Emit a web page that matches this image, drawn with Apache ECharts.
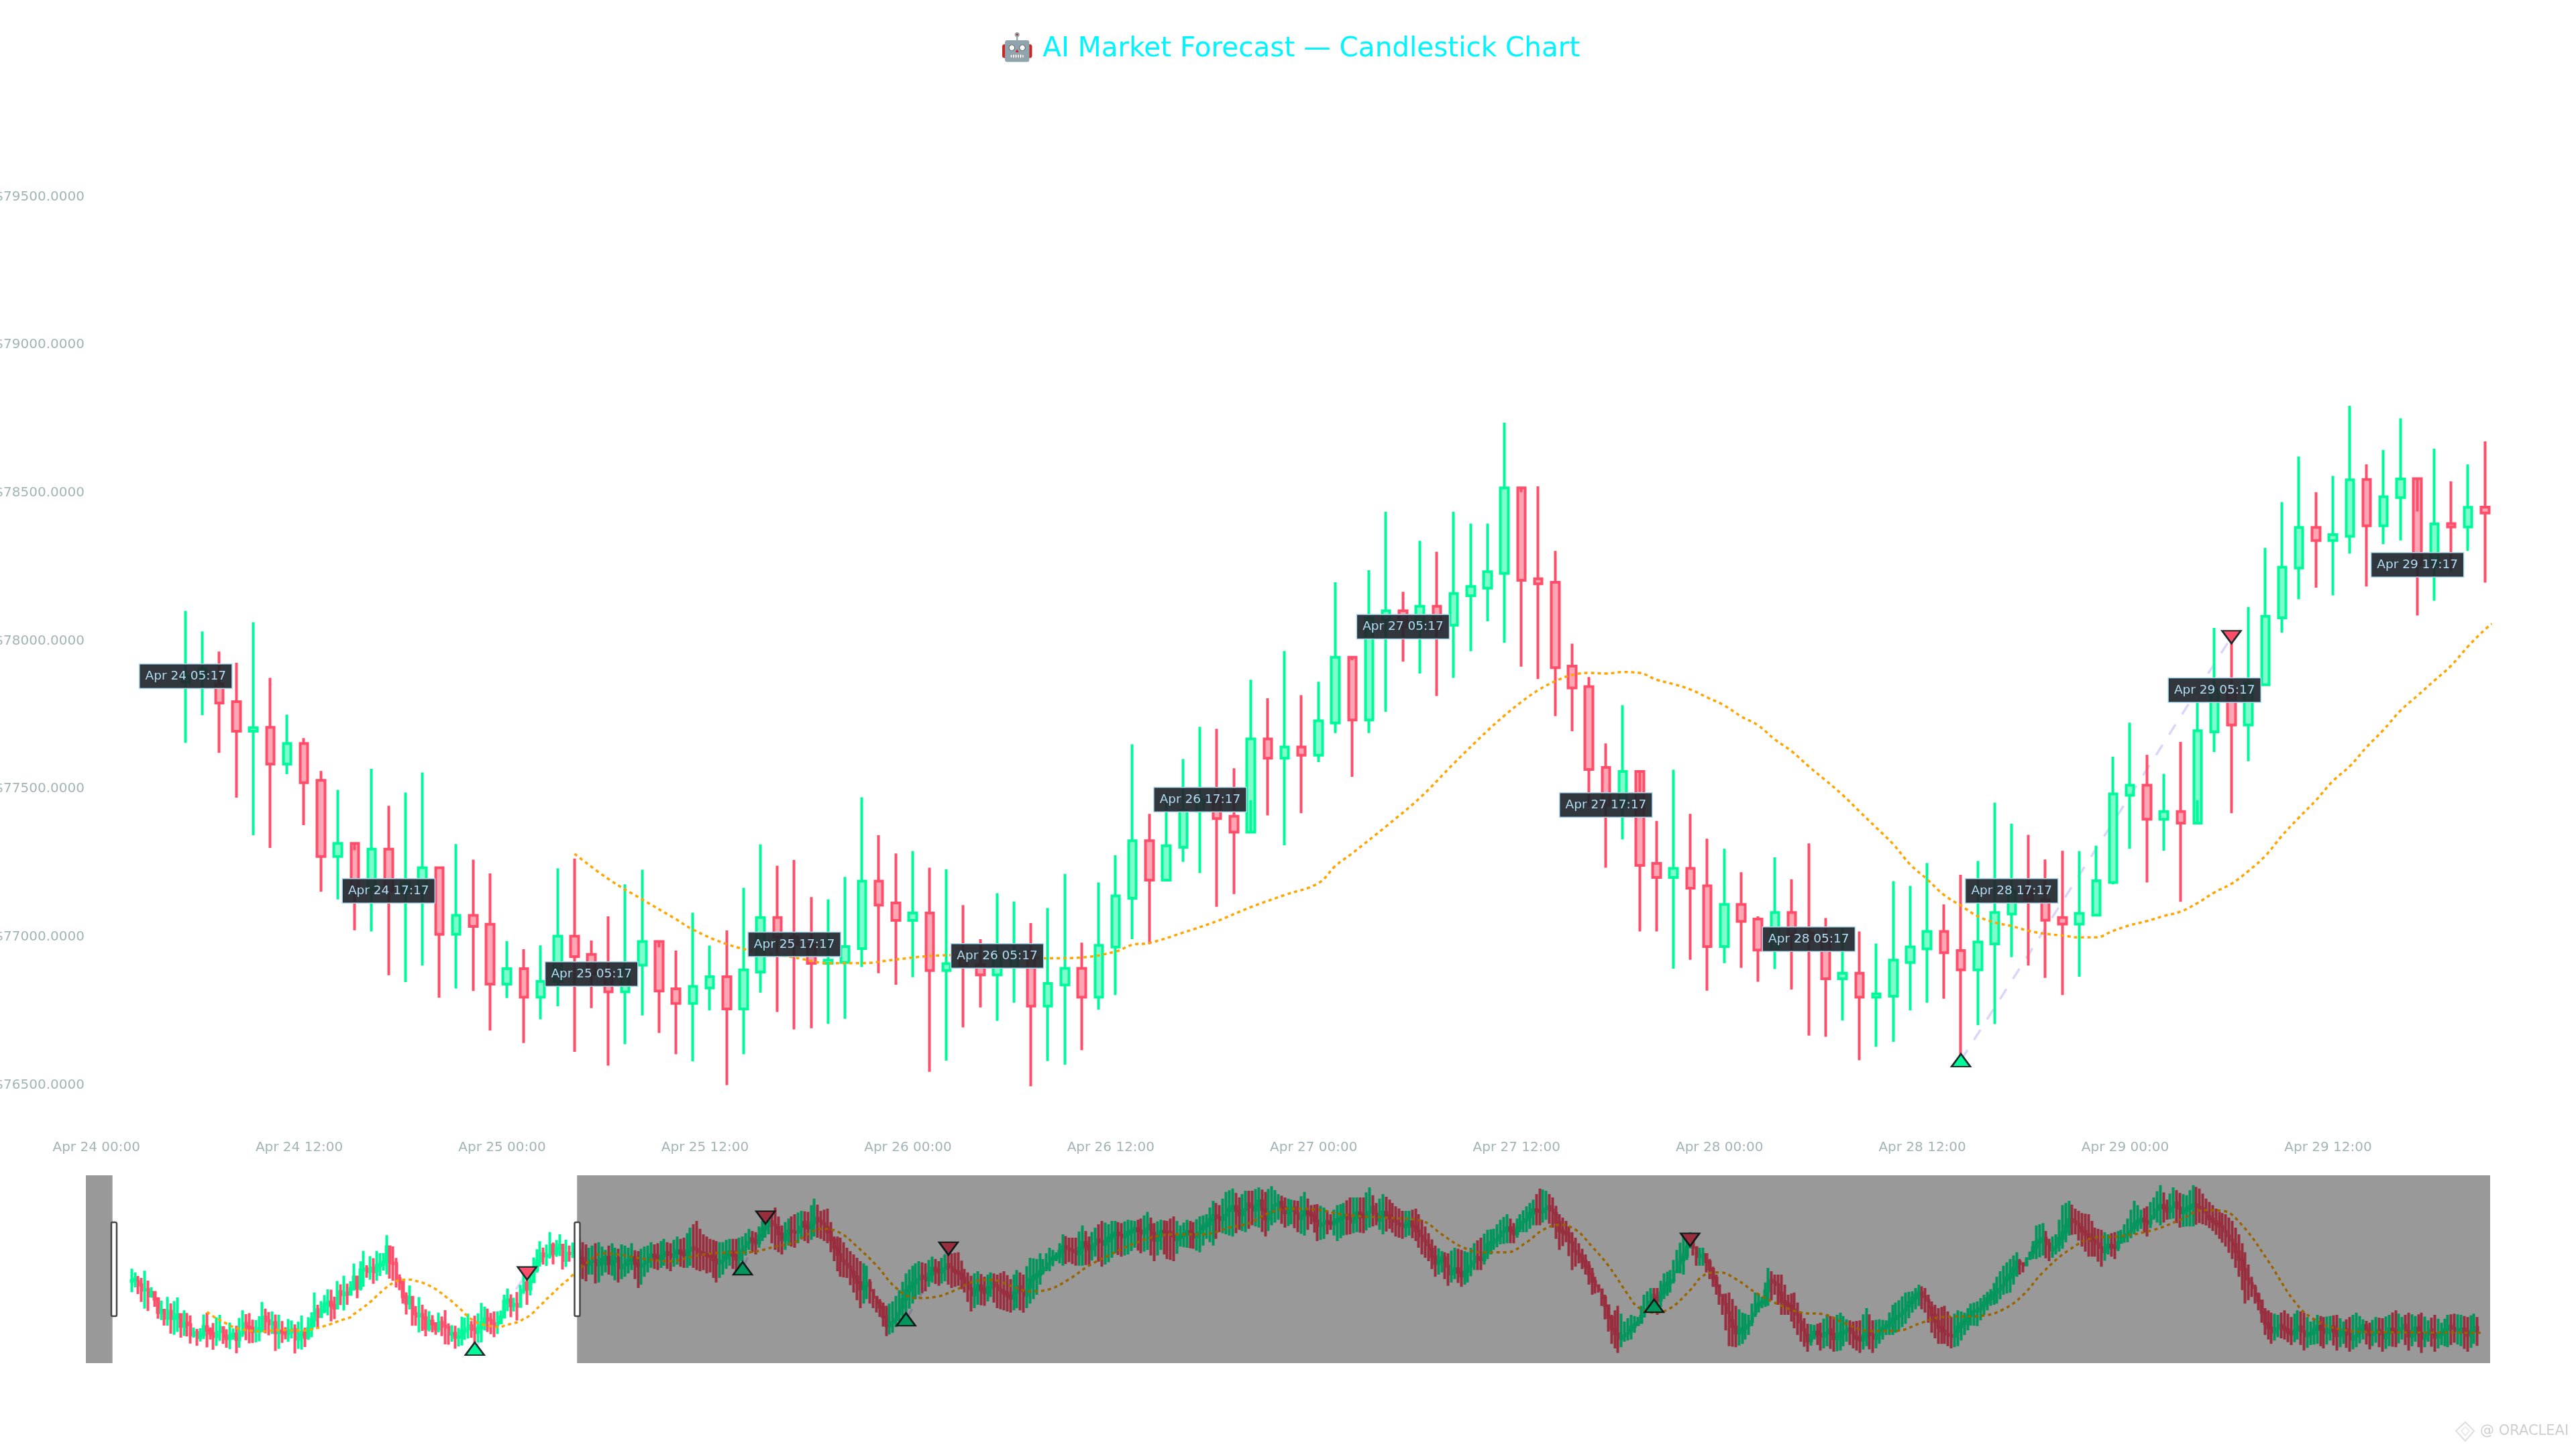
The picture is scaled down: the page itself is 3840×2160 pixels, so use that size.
<!DOCTYPE html>
<html><head><meta charset="utf-8">
<style>html,body{margin:0;padding:0;background:#fff}#c{width:3840px;height:2160px}</style>
<script src="https://cdn.jsdelivr.net/npm/echarts@6/dist/echarts.min.js"></script>
</head><body><div id="c"></div>
<script>
const mainOpen=[77860,77881,77855,77795,77695,77708,77584,77654,77529,77272,77316,77160,77297,77156,77160,77234,77009,77073,77043,76841,76893,76797,76850,77003,76941,76880,76815,76905,76985,76825,76776,76828,76866,76757,76882,77066,77000,76975,76911,76914,76961,77189,77115,77056,77081,76887,76925,76907,76872,76899,76951,76767,76838,76894,76797,76966,77131,77325,77192,77303,77425,77470,77408,77354,77669,77604,77642,77614,77723,77945,77733,78072,78102,78048,78117,78053,78153,78178,78228,78517,78210,78198,77915,77846,77573,77446,77559,77249,77201,77232,77173,76968,77110,77061,76956,77083,77013,76993,76859,76878,76797,76800,76914,76960,77019,76954,76889,76977,77078,77156,77126,77066,77044,77074,77184,77479,77513,77398,77424,77385,77693,77834,77716,77852,78078,78246,78383,78339,78353,78545,78389,78484,78548,78257,78396,78385,78452];
const mainClose=[77881,77905,77790,77695,77707,77584,77654,77521,77272,77316,77163,77297,77156,77185,77234,77009,77073,77036,76841,76893,76797,76850,77003,76934,76875,76815,76895,76985,76818,76776,76833,76866,76757,76889,77066,77000,76975,76911,76922,76968,77189,77108,77056,77081,76887,76910,76899,76872,76936,76951,76767,76843,76894,76797,76972,77139,77325,77192,77308,77427,77464,77400,77354,77669,77604,77642,77614,77730,77945,77733,78077,78102,78048,78117,78040,78160,78184,78234,78517,78205,78193,77910,77841,77566,77446,77559,77242,77201,77232,77165,76968,77110,77053,76956,77083,77007,76993,76859,76878,76797,76808,76922,76967,77019,76947,76889,76983,77083,77156,77126,77057,77044,77080,77190,77483,77513,77398,77424,77385,77697,77834,77716,77859,78083,78249,78383,78339,78359,78544,78389,78487,78547,78257,78395,78385,78451,78432];
const mainLow=[77656,77749,77622,77471,77344,77301,77550,77378,77153,77127,77023,77019,76871,76848,76904,76795,76826,76818,76684,76794,76642,76722,76766,76612,76760,76566,76638,76735,76676,76604,76580,76752,76500,76604,76812,76747,76688,76692,76707,76724,76899,76878,76839,76864,76545,76583,76695,76762,76717,76778,76496,76581,76569,76618,76755,76804,76993,76976,77190,77254,77216,77102,77145,77462,77411,77310,77418,77591,77689,77541,77689,77761,77930,77890,77814,77875,77965,78066,77994,77913,77871,77746,77695,77440,77234,77330,77019,77019,76893,76923,76819,76912,76896,76849,76892,76823,76667,76663,76718,76584,76629,76646,76752,76778,76792,76584,76702,76706,76932,76904,76862,76804,76866,77069,77178,77298,77184,77291,77119,77462,77625,77418,77594,77850,78028,78141,78180,78154,78295,78184,78327,78339,78086,78136,78235,78304,78197];
const mainHigh=[78101,78032,77964,77926,78063,77875,77751,77672,77561,77497,77293,77568,77443,77488,77556,77234,77314,77261,77215,76986,76959,76972,77232,77265,76988,77070,77178,77227,76965,76954,77082,76971,77022,77166,77313,77241,77260,77135,77127,77203,77472,77344,77282,77290,77234,77229,77108,76993,77148,77120,77047,77098,77213,76981,77184,77276,77651,77416,77486,77601,77710,77703,77570,77869,77806,77966,77817,77862,78198,77935,78239,78436,78166,78338,78301,78436,78396,78396,78737,78502,78522,78304,77991,77878,77654,77783,77490,77392,77565,77416,77332,77298,77219,77070,77269,77195,77316,77064,77029,77019,76978,77189,77173,77250,77110,77210,77257,77454,77383,77345,77262,77291,77290,77308,77609,77724,77615,77551,77659,77794,78044,78013,78114,78314,78469,78623,78502,78557,78794,78596,78645,78752,78437,78649,78539,78596,78674];
const maIdx=[23,25,27,29,30,32,34,36,38,40,42,44,46,48,50,51,53,55,56,57,59,61,63,65,67,68,69,71,73,75,77,78,79,80,81,82,83,84,85,86,87,88,89,90,91,92,93,94,95,96,97,98,99,100,101,102,103,104,105,106,107,108,109,110,111,112,113,114,115,116,117,118,119,120,121,122,123,124,125,126,127,128,129,130,131,132,133,134,135,136,136.4];
const maVal=[77281,77196,77127,77060,77025,76976,76948,76931,76912,76912,76924,76936,76939,76935,76930,76928,76931,76951,76974,76980,77015,77054,77101,77142,77182,77240,77283,77374,77470,77586,77697,77748,77794,77834,77864,77885,77892,77890,77895,77892,77869,77854,77836,77809,77782,77745,77715,77667,77627,77576,77529,77480,77424,77369,77313,77245,77195,77142,77106,77070,77049,77037,77021,77011,77005,76999,76999,77021,77040,77054,77071,77086,77115,77151,77180,77223,77274,77343,77404,77462,77527,77577,77642,77700,77765,77815,77866,77917,77982,78039,78058];
const restHigh=[78688,78561,78540,78604,78456,78583,78477,78540,78583,78434,78519,78604,78583,78667,78583,78710,78689,78879,79006,78752,78667,78625,78604,78667,78667,78710,78858,78794,79006,79133,79260,78921,79049,79133,79197,79176,79430,79197,79239,78710,78689,78498,78371,78244,78159,77651,77524,77397,77481,77693,78011,78159,78244,78201,78329,78244,78371,78392,78413,78096,77968,78053,77947,78032,77990,78053,77905,78074,77990,78307,78286,78286,78498,78413,78752,78689,78689,78921,78710,78879,79006,78943,79006,78964,79027,79006,79049,79176,78964,79027,79006,79091,78921,79027,78985,79091,79133,79387,79303,79557,79620,79451,79578,79578,79642,79557,79663,79515,79451,79409,79387,79557,79303,79324,79260,79133,79303,79345,79451,79451,79451,79642,79345,79515,79409,79282,79197,79197,79239,79027,78773,78540,78434,78392,78498,78456,78413,78583,78689,78837,78858,79027,79133,78964,79133,79282,79409,79620,79578,79451,79133,79006,78794,78583,78371,78117,77778,77608,77227,77397,77100,77227,77185,77608,77735,77735,78011,78075,78456,78731,78794,78498,78498,78286,77990,77608,77651,77397,77269,77227,77651,77566,78117,77990,77990,77608,77651,77269,77058,77037,77079,77227,77185,77269,77142,77100,77121,77354,77121,77142,77121,77418,77502,77651,77672,77799,77735,77481,77354,77397,77185,77312,77269,77439,77481,77608,77714,77947,78159,78286,78413,78159,78329,78921,78964,78667,78752,79303,79387,79239,79155,79133,78879,78837,78752,78794,78837,79049,79387,79218,79282,79451,79684,79409,79642,79536,79493,79684,79620,79430,79303,79176,79133,79006,78752,78413,77947,77651,77354,77269,77227,77312,77185,77312,77269,77100,77227,77185,77206,77227,77100,77185,77269,77142,77079,77185,77163,77227,77312,77185,77269,77206,77269,77121,77227,77079,77227,77248,77227,77185,77248];
const restLow=[77947,77863,77990,77841,78032,77968,77841,77947,78074,77735,77947,78117,78074,78159,78053,78180,78117,78159,78074,78074,78032,77841,77990,78159,78032,78244,78456,78371,78625,78752,78456,78371,78540,78498,78667,78583,78710,78667,78583,78244,77947,77926,77651,77354,77524,77354,77185,76825,76888,77100,77248,77439,77608,77672,77841,77778,77863,77735,77778,77651,77291,77418,77397,77566,77354,77312,77269,77354,77269,77439,77608,77990,78053,78244,78159,78223,78159,78159,78180,78329,78138,78223,78392,78329,78371,78498,78392,78456,78244,78456,78286,78244,78519,78498,78477,78413,78667,78540,78794,78752,78710,78837,78794,78922,78879,78710,78922,79027,78879,78943,78794,78731,78943,78625,78667,78837,78625,78731,78752,78794,78773,78879,78922,78752,78858,78710,78667,78731,78625,78371,78244,77947,78032,77778,77905,77757,77841,78074,78074,78286,78456,78561,78583,78583,78794,78794,78922,78922,79027,78879,78456,78604,78074,78201,77990,77608,77651,77142,76676,76507,76719,76761,77015,77185,77439,77227,77524,77651,78032,77990,78540,78159,78159,77905,77608,77227,76634,76613,76676,76846,77185,77354,77397,77608,77227,77227,76973,76719,76528,76761,76549,76634,76528,76549,76719,76592,76507,76634,76507,76676,76846,76846,76931,77058,77269,77396,77269,76888,76676,76676,76592,76634,76846,77024,77015,77227,77397,77439,77608,77651,77947,78032,78286,78286,78350,78244,78371,78477,78731,78752,78519,78329,78329,78138,78371,78286,78583,78604,78752,78858,78710,79027,78921,79027,79049,78879,78900,78900,78964,78921,78816,78667,78519,78286,77947,77439,77566,77312,76846,76676,76803,76761,76655,76761,76549,76655,76676,76592,76740,76549,76676,76528,76613,76761,76571,76698,76528,76634,76613,76761,76549,76719,76507,76719,76528,76655,76613,76698,76634,76528,76676];
const restClose=[78300,78180,78260,78200,78320,78240,78120,78190,78310,78150,78230,78360,78290,78410,78330,78440,78360,78500,78420,78370,78330,78210,78300,78420,78280,78520,78670,78590,78850,78990,78880,78650,78820,78790,78980,78870,79060,78950,78800,78500,78250,78130,77950,77720,77830,77560,77370,77020,77140,77360,77680,77830,77960,77890,78110,78030,78180,78070,78010,77840,77600,77780,77650,77830,77700,77640,77540,77760,77600,77900,77990,78110,78280,78340,78520,78450,78380,78600,78470,78650,78560,78690,78780,78700,78790,78860,78770,78930,78640,78810,78790,78650,78720,78810,78700,78860,78950,79110,79030,79200,79280,79120,79330,79210,79390,79040,79300,79360,79160,79250,79050,79180,79110,78920,79000,78950,79030,79120,78980,79160,79080,79270,79020,79170,79060,78950,78890,78990,78820,78630,78470,78200,78310,78000,78100,77960,78150,78320,78270,78560,78650,78800,78880,78760,78990,79080,79220,79180,79280,79150,78820,78760,78430,78340,78150,77860,77700,77400,76960,76780,76870,77000,77080,77330,77600,77500,77790,77880,78210,78340,78680,78330,78370,78090,77780,77430,77120,76880,76970,77100,77400,77470,77880,77800,77480,77400,77240,76940,76730,76900,76820,76950,76770,76880,76960,76810,76750,76920,76780,76940,77020,77150,77250,77390,77540,77650,77500,77220,76990,76860,76820,77000,77120,77290,77340,77460,77600,77710,77880,77990,78230,78170,78400,78610,78680,78460,78560,78790,79030,78950,78810,78680,78580,78420,78550,78500,78700,78810,78950,79040,78960,79220,79300,79190,79350,79160,79240,79310,79240,79090,78990,78900,78720,78560,78280,77900,77740,77490,77060,76900,77030,76950,76860,77000,76830,76880,77010,76890,77000,76830,76950,76760,76890,77020,76850,76930,76790,76960,76900,77030,76820,76980,76780,76940,76800,76890,77010,76930,76960,76840,76990];
const restHighOdd=[78604,78498,78583,78519,78540,78498,78561,78498,78450,78477,78540,78562,78625,78604,78646,78667,78773,78942,78858,78710,78646,78604,78646,78667,78688,78773,78815,78900,79070,79197,79090,78985,79091,79165,79186,79303,79313,79218,78985,78710,78604,78434,78308,78201,77905,77587,77460,77439,77587,77852,78085,78201,78222,78265,78286,78308,78381,78402,78254,78032,78011,78000,77990,78011,78021,77979,77990,78032,78148,78296,78392,78392,78456,78582,78720,78689,78805,78815,78795,78943,78975,79006,78985,78995,79017,79027,79112,79070,78995,79017,79049,79006,78974,79006,79038,79112,79260,79345,79430,79588,79535,79515,79578,79610,79600,79610,79589,79483,79430,79398,79472,79430,79314,79292,79197,79218,79324,79398,79451,79451,79546,79493,79430,79462,79345,79240,79197,79218,79133,78900,78656,78487,78413,78445,78477,78434,78498,78636,78763,78848,78942,79080,79049,79049,79207,79345,79515,79600,79515,79292,79070,78900,78688,78477,78244,77947,77693,77417,77312,77248,77164,77206,77397,77672,77735,77873,78043,78265,78593,78762,78646,78498,78392,78138,77799,77630,77524,77333,77248,77439,77608,77841,78054,77990,77799,77630,77460,77164,77048,77058,77153,77206,77227,77206,77121,77111,77238,77238,77132,77132,77270,77460,77577,77662,77735,77767,77608,77418,77376,77291,77248,77291,77354,77460,77545,77661,77830,78053,78222,78350,78286,78244,78625,78942,78815,78710,79027,79345,79313,79197,79144,79006,78858,78794,78773,78815,78943,79218,79303,79250,79366,79567,79546,79525,79589,79514,79588,79652,79525,79366,79239,79155,79070,78879,78582,78180,77799,77502,77312,77248,77270,77248,77248,77290,77185,77164,77206,77196,77216,77164,77142,77227,77206,77111,77132,77174,77195,77270,77248,77227,77238,77238,77195,77174,77153,77153,77238,77238,77206,77216,77185];
const restLowOdd=[77905,77990,77820,77968,77990,77882,77905,78011,77905,77799,78032,78096,78117,78096,78138,78138,78117,78117,78053,78011,77926,77926,78096,78096,78138,78350,78413,78498,78688,78583,78413,78456,78519,78583,78625,78646,78688,78625,78413,78053,77936,77788,77502,77439,77439,77270,77005,76856,76994,77174,77344,77523,77640,77756,77810,77820,77799,77756,77714,77471,77354,77408,77481,77460,77333,77291,77312,77312,77354,77524,77799,78053,78149,78201,78191,78191,78159,78170,78255,78233,78180,78308,78360,78350,78435,78445,78424,78350,78350,78371,78265,78382,78508,78487,78445,78540,78603,78667,78773,78731,78773,78815,78858,78900,78795,78816,78975,78953,78911,78869,78762,78837,78784,78646,78752,78731,78678,78741,78773,78784,78826,78900,78837,78805,78784,78688,78699,78678,78498,78307,78095,77990,77905,77841,77831,77799,77958,78074,78180,78371,78508,78572,78583,78688,78794,78858,78922,78975,78953,78667,78530,78339,78138,78095,77799,77630,77396,76910,76592,76613,76740,76888,77100,77312,77333,77375,77587,77820,78011,78265,78350,78159,78032,77756,77418,76930,76623,76645,76761,77015,77270,77375,77502,77418,77227,77100,76846,76624,76645,76655,76592,76581,76539,76634,76656,76550,76570,76571,76592,76761,76846,76888,76995,77164,77333,77333,77079,76782,76676,76634,76613,76740,76935,77020,77121,77312,77418,77523,77630,77799,77990,78159,78286,78318,78297,78307,78424,78604,78741,78635,78424,78329,78233,78254,78328,78434,78593,78678,78805,78784,78868,78974,78974,79038,78964,78890,78900,78932,78942,78868,78741,78593,78402,78116,77693,77502,77439,77079,76761,76740,76782,76708,76708,76655,76602,76666,76634,76666,76645,76613,76602,76571,76687,76666,76635,76613,76581,76624,76687,76655,76634,76613,76613,76624,76592,76634,76656,76666,76581,76602,76640];
const restCloseOdd=[78210,78240,78170,78280,78190,78300,78170,78260,78200,78190,78300,78330,78350,78370,78400,78390,78450,78470,78400,78350,78270,78250,78360,78350,78450,78600,78630,78720,78910,78930,78760,78740,78800,78890,78910,78970,79000,78880,78650,78370,78190,78040,77840,77780,77690,77460,77190,77080,77250,77520,77760,77900,77920,78000,78070,78100,78130,78040,77920,77720,77690,77710,77740,77770,77670,77590,77650,77680,77750,77950,78050,78200,78310,78430,78480,78420,78490,78530,78560,78610,78620,78740,78740,78750,78820,78820,78850,78780,78720,78800,78720,78690,78760,78750,78780,78910,79030,79070,79110,79240,79200,79220,79270,79300,79220,79170,79330,79260,79200,79150,79110,79150,79010,78960,78970,78990,79070,79050,79070,79120,79170,79140,79090,79110,79000,78920,78940,78900,78720,78550,78330,78250,78150,78050,78030,78050,78230,78290,78410,78600,78720,78840,78820,78870,79030,79150,79200,79230,79210,78980,78790,78600,78380,78240,78000,77780,77550,77180,76870,76830,76930,77040,77200,77470,77550,77640,77830,78040,78270,78510,78500,78350,78230,77930,77600,77270,77000,76920,77030,77250,77440,77680,77840,77640,77440,77320,77090,76840,76810,76860,76880,76860,76820,76920,76890,76780,76830,76850,76860,76980,77090,77200,77320,77460,77600,77570,77360,77100,76920,76840,76910,77060,77210,77310,77400,77530,77650,77790,77930,78110,78200,78290,78500,78640,78570,78510,78680,78910,78990,78880,78750,78630,78500,78490,78520,78600,78750,78880,79000,79000,79090,79260,79250,79270,79250,79200,79280,79270,79170,79040,78950,78810,78640,78420,78090,77820,77610,77270,76980,76970,76990,76900,76930,76910,76860,76950,76950,76950,76920,76890,76860,76820,76960,76930,76890,76860,76880,76930,76970,76920,76900,76880,76860,76870,76850,76950,76970,76940,76900,76920,76900];
const maRestIdx=[139,144,149,157,165,173,181,189,197,203,208,212,217,222,228,234,240,246,252,258,263,269,275,281,287,293,299,307,315,320,328,336,342,348,354,362,370,377,387,395,401,407,413,421,427,432,437,442,447,452,458,461,466,471,477,481,486,491,497,505,511,518,524,532,540,548,554,566,573,579,585,593,601,609,619,627,634,640,646,654,662,668,676,687,719];
const maRestVal=[78201,78392,78371,78286,78244,78350,78405,78413,78519,78604,78794,78858,78773,78519,78159,77735,77545,77566,77693,77863,77892,77778,77672,77714,77905,78159,78350,78583,78731,78752,78752,78879,78964,79155,79239,79227,79133,79091,79057,79006,78752,78519,78413,78413,78604,78837,78934,78837,78519,78159,77608,77375,77269,77354,77693,77968,78032,77905,77651,77397,77269,77236,77079,76922,76922,77079,77185,77206,77333,77608,78032,78456,78689,78718,78837,79027,79210,79197,78922,78244,77481,77142,76952,76901,76888];
const signalIdx=[105,187,194,237,250,466,477,121];
const signalVal=[76584,78108,79070,77142,78481,77397,78650,78013];
const signalKind=['buy','buy','sell','buy','sell','buy','sell','sell'];
const signalPairs=[[105,121],[187,194],[237,250],[466,477]];
const noteIdx=[0,12,24,36,48,60,72,84,96,108,120,132];
const yTicks=[76500,77000,77500,78000,78500,79000,79500];
const xTickDays=[[24,0],[24,12],[25,0],[25,12],[26,0],[26,12],[27,0],[27,12],[28,0],[28,12],[29,0],[29,12]];
const titleText='🤖 AI Market Forecast — Candlestick Chart';

const HOUR=3600000, base=Date.UTC(2025,3,24,5,17);
const T=i=>base+i*HOUR;
const MON=['Jan','Feb','Mar','Apr','May','Jun','Jul','Aug','Sep','Oct','Nov','Dec'];
const p2=n=>String(n).padStart(2,'0');
const fmt=t=>{const d=new Date(t);return MON[d.getUTCMonth()]+' '+d.getUTCDate()+' '+p2(d.getUTCHours())+':'+p2(d.getUTCMinutes());};
const xTicks=xTickDays.map(a=>Date.UTC(2025,3,a[0],a[1]));
const GREEN='#00fa9a',RED='#ff4d6a',TICK='#a3b4b6',FONT="'DejaVu Sans','Noto Color Emoji',sans-serif";
const mainCandles=mainOpen.map((o,i)=>[T(i),o,mainClose[i],mainLow[i],mainHigh[i]]);
const restRows=[];
restClose.forEach((c,k)=>restRows.push([137+2*k,c,restLow[k],restHigh[k]]));
restCloseOdd.forEach((c,k)=>restRows.push([138+2*k,c,restLowOdd[k],restHighOdd[k]]));
restRows.sort((a,b)=>a[0]-b[0]);
const restCandles=restRows.map((r,k)=>[T(r[0]),k?restRows[k-1][1]:mainClose[136],r[1],r[2],r[3]]);
const maMain=maIdx.map((i,k)=>[T(i),maVal[k]]);
const maAll=maMain.concat(maRestIdx.map((i,k)=>[T(i),maRestVal[k]]));
const sigAt=i=>signalVal[signalIdx.indexOf(i)];
const markerData=(list)=>list.map(k=>({value:[T(signalIdx[k]),signalVal[k]],symbolRotate:signalKind[k]==='buy'?0:180,itemStyle:{color:signalKind[k]==='buy'?GREEN:RED}}));
const markerSeries=(name,x,y,list)=>({name,type:'scatter',xAxisIndex:x,yAxisIndex:y,symbol:'triangle',symbolSize:[28,19],z:6,silent:true,
  itemStyle:{borderColor:'#1c2b2b',borderWidth:2.5,opacity:1},data:markerData(list)});
const pairSeries=(a,x,y,extra)=>Object.assign({type:'line',xAxisIndex:x,yAxisIndex:y,symbol:'none',z:1,silent:true,
  lineStyle:{color:'rgba(214,206,250,0.85)',width:3.5,type:[18,18]},data:[[T(a[0]),sigAt(a[0])],[T(a[1]),sigAt(a[1])]]},extra||{});
const candleStyle=(w)=>({color:'rgba(0,250,154,0.5)',color0:'rgba(255,77,106,0.5)',borderColor:GREEN,borderColor0:RED,borderWidth:w});
const allX=[T(-14.05),T(721.9)], win=[T(-5.905),T(136.3)];

const chart=echarts.init(document.getElementById('c'),null,{renderer:'canvas',width:3840,height:2160});
chart.setOption({
  animation:false,backgroundColor:'#fff',
  textStyle:{fontFamily:FONT},
  title:{text:titleText,left:1486,top:48,textStyle:{color:'#00f5ff',fontSize:40.5,fontWeight:'normal',fontFamily:FONT}},
  grid:[{left:128,right:128,top:130,height:1570.5,outerBoundsMode:'none'},{left:128,right:128,top:1752,height:280,outerBoundsMode:'none'}],
  xAxis:[
    {type:'value',gridIndex:0,min:allX[0],max:allX[1],scale:true,splitLine:{show:false},axisLine:{show:false},axisTick:{show:false},
     axisLabel:{customValues:xTicks,color:TICK,fontSize:20,margin:0,formatter:v=>fmt(v),hideOverlap:false}},
    {type:'value',gridIndex:1,min:allX[0],max:allX[1],scale:true,show:false,splitLine:{show:false}}
  ],
  yAxis:[
    {type:'value',gridIndex:0,min:76312,max:79870,scale:true,splitLine:{show:false},axisLine:{show:false},axisTick:{show:false},
     axisLabel:{customValues:yTicks,color:TICK,fontSize:20,margin:2,formatter:v=>'$'+v.toFixed(4)}},
    {type:'value',gridIndex:1,min:76312,max:79870,scale:true,show:false,splitLine:{show:false}}
  ],
  dataZoom:[{type:'slider',xAxisIndex:0,filterMode:'none',startValue:win[0],endValue:win[1],left:128,right:128,top:1752,height:280,z:30,
    backgroundColor:'transparent',borderColor:'transparent',fillerColor:'transparent',showDetail:false,showDataShadow:false,brushSelect:false,moveHandleSize:0,
    dataBackground:{lineStyle:{opacity:0},areaStyle:{opacity:0}},selectedDataBackground:{lineStyle:{opacity:0},areaStyle:{opacity:0}},
    handleIcon:'path://M2,0h4a2,2,0,0,1,2,2v136a2,2,0,0,1,-2,2h-4a2,2,0,0,1,-2,-2v-136a2,2,0,0,1,2,-2z',handleSize:140,
    handleStyle:{color:'#fff',borderColor:'#444',borderWidth:2.5}}],
  series:[
    pairSeries(signalPairs[0],0,0),
    {name:'candles',type:'candlestick',xAxisIndex:0,yAxisIndex:0,barWidth:12,z:2,silent:true,itemStyle:candleStyle(4),data:mainCandles},
    {name:'ma',type:'line',xAxisIndex:0,yAxisIndex:0,symbol:'none',smooth:0.4,z:3,silent:true,lineStyle:{color:'#ffa500',width:3.5,type:[5,5]},data:maMain},
    markerSeries('signals',0,0,[0,7]),
    {name:'notes',type:'scatter',xAxisIndex:0,yAxisIndex:0,symbolSize:1,z:8,silent:true,itemStyle:{color:'transparent',opacity:1},
     label:{show:true,position:'inside',formatter:p=>fmt(p.value[0]),color:'#b2def5',opacity:1,fontSize:18.5,fontFamily:FONT,backgroundColor:'rgba(33,38,44,0.92)',borderColor:'#a8d8ee',borderWidth:1.5,padding:[8,8,8,8]},
     data:noteIdx.map(i=>[T(i),mainClose[i]])},
    {name:'miniA',type:'candlestick',xAxisIndex:1,yAxisIndex:1,barWidth:2,z:2,silent:true,large:false,progressive:0,itemStyle:candleStyle(4),data:mainCandles},
    {name:'miniB',type:'candlestick',xAxisIndex:1,yAxisIndex:1,barWidth:2,z:2,silent:true,large:false,progressive:0,itemStyle:candleStyle(4),data:restCandles},
    {name:'miniMa',type:'line',xAxisIndex:1,yAxisIndex:1,symbol:'none',smooth:0.4,z:3,silent:true,lineStyle:{color:'#ffa500',width:3.5,type:[5,5]},data:maAll},
    pairSeries(signalPairs[0],1,1),
    pairSeries(signalPairs[1],1,1),
    pairSeries(signalPairs[2],1,1),
    pairSeries(signalPairs[3],1,1,{markArea:{silent:true,z:20,itemStyle:{color:'rgba(0,0,0,0.4)'},data:[[{xAxis:allX[0]},{xAxis:win[0]}],[{xAxis:win[1]},{xAxis:allX[1]}]]}}),
    markerSeries('miniSignals',1,1,[0,1,2,3,4,5,6,7])
  ],
  graphic:[
    {type:'text',left:3697,top:2123,silent:true,style:{text:'@ ORACLEAI',fontSize:21,fontFamily:FONT,fill:'rgba(165,165,165,0.55)'}},
    {type:'polygon',silent:true,shape:{points:[[3675,2120],[3688,2133],[3675,2148],[3661,2133]]},style:{fill:'transparent',stroke:'rgba(190,190,190,0.5)',lineWidth:2}},
    {type:'polygon',silent:true,shape:{points:[[3675,2127],[3681,2133],[3675,2140],[3669,2133]]},style:{fill:'transparent',stroke:'rgba(190,190,190,0.4)',lineWidth:1.5}}
  ]
});
</script></body></html>
